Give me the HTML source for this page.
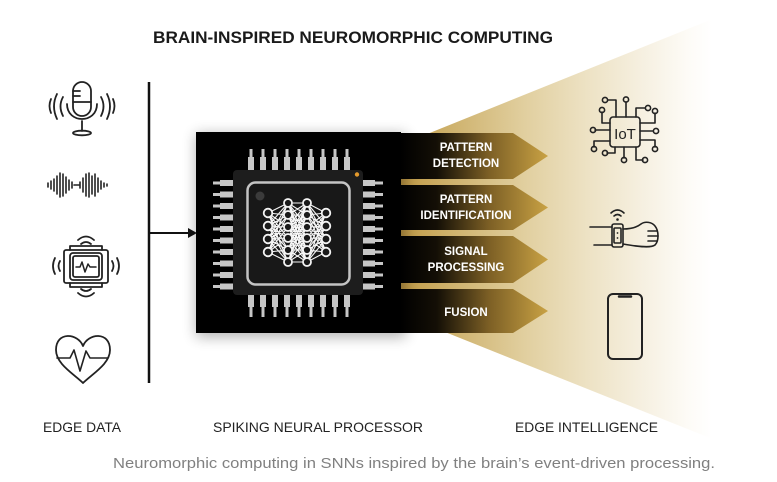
<!DOCTYPE html>
<html><head><meta charset="utf-8"><style>
html,body{margin:0;padding:0;background:#fff;}
svg{display:block;}
</style></head><body>
<svg width="777" height="482" viewBox="0 0 777 482" xmlns="http://www.w3.org/2000/svg">
<defs>
<linearGradient id="beam" gradientUnits="userSpaceOnUse" x1="400" y1="0" x2="712" y2="0">
<stop offset="0" stop-color="#c19a45"/><stop offset="0.15" stop-color="#cdb06a"/><stop offset="0.4" stop-color="#e1cf9f"/><stop offset="0.6" stop-color="#ede2c4"/><stop offset="0.78" stop-color="#f6f0e1"/><stop offset="0.92" stop-color="#fdfbf6"/><stop offset="1" stop-color="#ffffff"/>
</linearGradient>
<linearGradient id="chev" gradientUnits="userSpaceOnUse" x1="400" y1="0" x2="548" y2="0">
<stop offset="0" stop-color="#000"/><stop offset="0.25" stop-color="#140f06"/><stop offset="0.6" stop-color="#7c5f25"/><stop offset="1" stop-color="#c9a244"/>
</linearGradient>
<filter id="sh" x="-20%" y="-20%" width="140%" height="140%"><feGaussianBlur stdDeviation="7"/></filter>
</defs>

<!-- title -->
<text x="153" y="43" font-family="Liberation Sans, sans-serif" font-weight="bold" font-size="16.5" fill="#1a1a1a" textLength="400" lengthAdjust="spacingAndGlyphs">BRAIN-INSPIRED NEUROMORPHIC COMPUTING</text>

<!-- beam -->
<polygon points="380,153 720,16 720,442 380,306" fill="url(#beam)"/>

<!-- box shadow -->
<rect x="196" y="134" width="210" height="203" fill="#000" opacity="0.3" filter="url(#sh)"/>
<!-- processor box -->
<rect x="196" y="132" width="205" height="201" fill="#000"/>

<!-- chevrons -->
<g fill="url(#chev)">
<polygon points="400,133 513,133 548,156 513,179 400,179"/>
<polygon points="400,185 513,185 548,207.5 513,230 400,230"/>
<polygon points="400,236 513,236 548,259.5 513,283 400,283"/>
<polygon points="400,289 513,289 548,311 513,333 400,333"/>
</g>
<g font-family="Liberation Sans, sans-serif" font-weight="bold" font-size="11.5" fill="#fff" text-anchor="middle">
<text x="466" y="151">PATTERN</text><text x="466" y="167">DETECTION</text>
<text x="466" y="203">PATTERN</text><text x="466" y="219">IDENTIFICATION</text>
<text x="466" y="255">SIGNAL</text><text x="466" y="271">PROCESSING</text>
<text x="466" y="316">FUSION</text>
</g>

<!-- chip pins -->
<g fill="#c6c6c6">
<rect x="249.5" y="149" width="3" height="9"/><rect x="248" y="157" width="6" height="13"/>
<rect x="261.5" y="149" width="3" height="9"/><rect x="260" y="157" width="6" height="13"/>
<rect x="273.5" y="149" width="3" height="9"/><rect x="272" y="157" width="6" height="13"/>
<rect x="285.5" y="149" width="3" height="9"/><rect x="284" y="157" width="6" height="13"/>
<rect x="297.5" y="149" width="3" height="9"/><rect x="296" y="157" width="6" height="13"/>
<rect x="309.5" y="149" width="3" height="9"/><rect x="308" y="157" width="6" height="13"/>
<rect x="321.5" y="149" width="3" height="9"/><rect x="320" y="157" width="6" height="13"/>
<rect x="333.5" y="149" width="3" height="9"/><rect x="332" y="157" width="6" height="13"/>
<rect x="345.5" y="149" width="3" height="9"/><rect x="344" y="157" width="6" height="13"/>
<rect x="248" y="295" width="6" height="12"/><rect x="249.5" y="306" width="3" height="11"/>
<rect x="260" y="295" width="6" height="12"/><rect x="261.5" y="306" width="3" height="11"/>
<rect x="272" y="295" width="6" height="12"/><rect x="273.5" y="306" width="3" height="11"/>
<rect x="284" y="295" width="6" height="12"/><rect x="285.5" y="306" width="3" height="11"/>
<rect x="296" y="295" width="6" height="12"/><rect x="297.5" y="306" width="3" height="11"/>
<rect x="308" y="295" width="6" height="12"/><rect x="309.5" y="306" width="3" height="11"/>
<rect x="320" y="295" width="6" height="12"/><rect x="321.5" y="306" width="3" height="11"/>
<rect x="332" y="295" width="6" height="12"/><rect x="333.5" y="306" width="3" height="11"/>
<rect x="344" y="295" width="6" height="12"/><rect x="345.5" y="306" width="3" height="11"/>
<rect x="213" y="181.5" width="8" height="3"/><rect x="220" y="180" width="13" height="6"/>
<rect x="213" y="193" width="8" height="3"/><rect x="220" y="191.5" width="13" height="6"/>
<rect x="213" y="204.5" width="8" height="3"/><rect x="220" y="203" width="13" height="6"/>
<rect x="213" y="216" width="8" height="3"/><rect x="220" y="214.5" width="13" height="6"/>
<rect x="213" y="227.5" width="8" height="3"/><rect x="220" y="226" width="13" height="6"/>
<rect x="213" y="239" width="8" height="3"/><rect x="220" y="237.5" width="13" height="6"/>
<rect x="213" y="250.5" width="8" height="3"/><rect x="220" y="249" width="13" height="6"/>
<rect x="213" y="262" width="8" height="3"/><rect x="220" y="260.5" width="13" height="6"/>
<rect x="213" y="273.5" width="8" height="3"/><rect x="220" y="272" width="13" height="6"/>
<rect x="213" y="285" width="8" height="3"/><rect x="220" y="283.5" width="13" height="6"/>
<rect x="363" y="180" width="12" height="6"/><rect x="374" y="181.5" width="9" height="3"/>
<rect x="363" y="191.5" width="12" height="6"/><rect x="374" y="193" width="9" height="3"/>
<rect x="363" y="203" width="12" height="6"/><rect x="374" y="204.5" width="9" height="3"/>
<rect x="363" y="214.5" width="12" height="6"/><rect x="374" y="216" width="9" height="3"/>
<rect x="363" y="226" width="12" height="6"/><rect x="374" y="227.5" width="9" height="3"/>
<rect x="363" y="237.5" width="12" height="6"/><rect x="374" y="239" width="9" height="3"/>
<rect x="363" y="249" width="12" height="6"/><rect x="374" y="250.5" width="9" height="3"/>
<rect x="363" y="260.5" width="12" height="6"/><rect x="374" y="262" width="9" height="3"/>
<rect x="363" y="272" width="12" height="6"/><rect x="374" y="273.5" width="9" height="3"/>
<rect x="363" y="283.5" width="12" height="6"/><rect x="374" y="285" width="9" height="3"/>
</g>

<!-- chip body -->
<rect x="233" y="170" width="130" height="125" rx="4" fill="#1d1d1d"/>
<rect x="247.5" y="182.5" width="102" height="102" rx="8" fill="#181818" stroke="#c4c4c4" stroke-width="2.5"/>
<circle cx="260" cy="196" r="4.5" fill="#3b3b3b"/>
<circle cx="357" cy="174.5" r="2.2" fill="#e49a2c"/>

<!-- neural net -->
<path stroke="#f6f6f6" stroke-width="1.1" fill="none" d="
M268,213L288,203M268,213L288,215M268,213L288,227M268,213L288,238M268,213L288,250M268,213L288,262
M268,226L288,203M268,226L288,215M268,226L288,227M268,226L288,238M268,226L288,250M268,226L288,262
M268,239L288,203M268,239L288,215M268,239L288,227M268,239L288,238M268,239L288,250M268,239L288,262
M268,252L288,203M268,252L288,215M268,252L288,227M268,252L288,238M268,252L288,250M268,252L288,262
M288,203L307,203M288,203L307,215M288,203L307,227M288,203L307,238M288,203L307,250M288,203L307,262
M288,215L307,203M288,215L307,215M288,215L307,227M288,215L307,238M288,215L307,250M288,215L307,262
M288,227L307,203M288,227L307,215M288,227L307,227M288,227L307,238M288,227L307,250M288,227L307,262
M288,238L307,203M288,238L307,215M288,238L307,227M288,238L307,238M288,238L307,250M288,238L307,262
M288,250L307,203M288,250L307,215M288,250L307,227M288,250L307,238M288,250L307,250M288,250L307,262
M288,262L307,203M288,262L307,215M288,262L307,227M288,262L307,238M288,262L307,250M288,262L307,262
M326,213L307,203M326,213L307,215M326,213L307,227M326,213L307,238M326,213L307,250M326,213L307,262
M326,226L307,203M326,226L307,215M326,226L307,227M326,226L307,238M326,226L307,250M326,226L307,262
M326,239L307,203M326,239L307,215M326,239L307,227M326,239L307,238M326,239L307,250M326,239L307,262
M326,252L307,203M326,252L307,215M326,252L307,227M326,252L307,238M326,252L307,250M326,252L307,262"/>
<g fill="#1a1a1a" stroke="#f4f4f4" stroke-width="1.8">
<circle cx="268" cy="213" r="4.3"/><circle cx="268" cy="226" r="4.3"/><circle cx="268" cy="239" r="4.3"/><circle cx="268" cy="252" r="4.3"/>
<circle cx="288" cy="203" r="4"/><circle cx="288" cy="215" r="4"/><circle cx="288" cy="227" r="4"/><circle cx="288" cy="238" r="4"/><circle cx="288" cy="250" r="4"/><circle cx="288" cy="262" r="4"/>
<circle cx="307" cy="203" r="4"/><circle cx="307" cy="215" r="4"/><circle cx="307" cy="227" r="4"/><circle cx="307" cy="238" r="4"/><circle cx="307" cy="250" r="4"/><circle cx="307" cy="262" r="4"/>
<circle cx="326" cy="213" r="4.3"/><circle cx="326" cy="226" r="4.3"/><circle cx="326" cy="239" r="4.3"/><circle cx="326" cy="252" r="4.3"/>
</g>

<!-- left line and arrow -->
<line x1="149" y1="82" x2="149" y2="383" stroke="#111" stroke-width="2.5"/>
<line x1="149" y1="233" x2="189" y2="233" stroke="#111" stroke-width="2"/>
<polygon points="188,228 197,233 188,238" fill="#111"/>

<!-- left icons -->
<g fill="none" stroke="#222" stroke-width="1.8" stroke-linecap="round" stroke-linejoin="round">
<rect x="73" y="82" width="18" height="34" rx="9"/>
<path d="M73,91H80M73,96H80M73,102H91"/>
<path d="M67,104C67,124 97,124 97,104"/>
<path d="M82,121V131"/>
<ellipse cx="82" cy="133" rx="9" ry="2.3"/>
<path d="M63,97Q58,106 63,116M57,94Q51,106 57,119M51,99Q48,106 51,113"/>
<path d="M101,97Q106,106 101,116M107,94Q113,106 107,119M113,99Q116,106 113,113"/>
<path stroke-width="1.6" d="M48,183V187M51,181V189M54,179V191M57,176V194M60,173V197M63,174V196M66,177V193M69,180V190M72,182V188M74,185H80M80,182V188M83,178V192M86,174V196M89,173V197M92,176V194M95,174V196M98,178V192M101,181V189M104,183V187M107,184V186"/>
<rect x="64" y="250" width="44" height="33" rx="2"/>
<path d="M70,250V246H102V250M70,283V287H102V283"/>
<rect x="70" y="253" width="32" height="27" rx="3"/>
<rect x="73" y="256" width="26" height="21" rx="2"/>
<path stroke-width="1.5" d="M76,267H80L82,262L85,272L88,264L90,267H96"/>
<path d="M81,244Q86,240 91,244M78,240Q86,233 94,240"/>
<path d="M81,289Q86,293 91,289M78,293Q86,300 94,293"/>
<path d="M60,261Q57,266 60,271M55,258Q51,266 55,274"/>
<path d="M112,261Q115,266 112,271M117,258Q121,266 117,274"/>
<path d="M83,346C78,333 56,331 56,350C56,364 74,374 83,383C92,374 110,364 110,350C110,331 88,333 83,346Z"/>
<path stroke-width="1.6" d="M57,358H70L74,350L80,371L86,351L90,358H108"/>
</g>

<!-- right icons -->
<g fill="none" stroke="#222" stroke-width="1.6" stroke-linecap="round" stroke-linejoin="round">
<rect x="610" y="117" width="30" height="30" rx="3"/>
<path d="M608,100H616V117M626,102V117M645,108H636V117M602,112V123H610M655,113V123H640M595,130H610M653,131H640M594,147V141H610M607,153H615V147M624,158V147M643,160H636V147M655,147V140H640"/>
<circle cx="605" cy="100" r="2.6"/><circle cx="626" cy="99.5" r="2.6"/><circle cx="648" cy="108" r="2.6"/>
<circle cx="602" cy="110" r="2.6"/><circle cx="655" cy="111" r="2.6"/><circle cx="593" cy="130" r="2.6"/>
<circle cx="656" cy="131" r="2.6"/><circle cx="594" cy="149" r="2.6"/><circle cx="605" cy="153" r="2.6"/>
<circle cx="624" cy="160" r="2.6"/><circle cx="645" cy="160" r="2.6"/><circle cx="655" cy="149" r="2.6"/>
<path d="M590,227H612M594,245H612"/>
<rect x="612" y="224" width="11" height="23" rx="2"/>
<rect x="614" y="228" width="7" height="15" rx="1"/>
<path d="M623,229C630,229 636,228 641,224C645,221 652,222 655,226C659,231 659,241 655,245C651,248 640,247 623,244"/>
<path d="M648,231H657M648,236H658M648,241H657"/>
<path d="M614,216Q617.5,213 621,216M611,213Q617.5,207 624,213"/>
<rect x="608" y="294" width="34" height="65" rx="5" stroke-width="2"/>
<path d="M619,296.5H631" stroke-width="2.5"/>
</g>
<circle cx="617.5" cy="219.5" r="1.3" fill="#222"/>
<circle cx="617.5" cy="233" r="0.9" fill="#222"/><circle cx="617.5" cy="238" r="0.9" fill="#222"/>
<text x="625" y="139" font-family="Liberation Sans, sans-serif" font-size="15" fill="#222" text-anchor="middle">IoT</text>

<!-- bottom labels -->
<g font-family="Liberation Sans, sans-serif" font-size="14" fill="#222">
<text x="43" y="432" textLength="78" lengthAdjust="spacingAndGlyphs">EDGE DATA</text>
<text x="213" y="432" textLength="210" lengthAdjust="spacingAndGlyphs">SPIKING NEURAL PROCESSOR</text>
<text x="515" y="432" textLength="143" lengthAdjust="spacingAndGlyphs">EDGE INTELLIGENCE</text>
</g>
<text x="113" y="468" font-family="Liberation Sans, sans-serif" font-size="15" fill="#808080" textLength="602" lengthAdjust="spacingAndGlyphs">Neuromorphic computing in SNNs inspired by the brain’s event-driven processing.</text>
</svg>
</body></html>
